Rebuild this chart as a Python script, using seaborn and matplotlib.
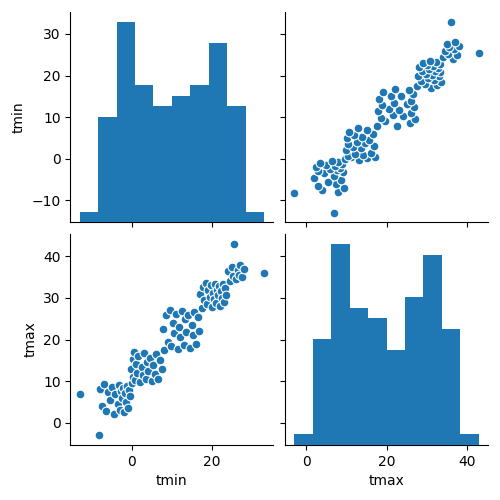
import matplotlib
matplotlib.use("Agg")
import matplotlib.pyplot as plt
import seaborn as sns
import pandas as pd

# values (approximate)
tmin = [-13, -8.2, -8, -7.5, -7, -6.5, -6, -5.5, -5, -4.5, -4.2,
        -3.5, -3.2, -3, -2.8, -2.5, -2.2, -2, -1.8, -1.5, -1.2, -1, -0.8, -0.5, -0.2, 0, 0.2, 0.4, 0.5, 0.7,
        1, 1.2, 1.5, 2, 2.5, 2.8, 3, 3.5, 3.8, 4, 4.5, 5, 5.2,
        5.8, 6, 6.5, 7, 7.5, 7.8, 8, 8.5, 9, 9.5, 9.8,
        10.2, 10.5, 11, 11.5, 11.8, 12, 12.5, 13, 13.2, 13.5, 14, 14.4,
        15, 15.2, 15.5, 16, 16.5, 16.8, 17, 17.5, 17.8, 18, 18.5, 18.8, 19,
        19.5, 19.8, 20, 20.2, 20.5, 20.8, 21, 21.2, 21.5, 21.8, 22, 22.2, 22.5, 22.8, 23, 23.2, 23.5,
        24, 24.5, 25, 25.2, 25.5, 26, 26.5, 26.8, 27, 27.5, 28,
        33]
tmax = [6.8, -3, 8, 4, 9.3, 2.8, 7.3, 5.5, 8.6, 2, 7, 4.5, 9, 3, 7.6, 6, 8.3, 2.5, 7.1, 5, 8.8, 3.5, 7.8, 6.5,
        13, 9.6, 15.2, 11, 17, 10.3, 14, 12, 16, 9.8, 13.5, 11.5, 16.8, 10.4, 14.5, 12.5, 15.6, 10, 13.8, 11.8, 16.5, 10.6, 15, 12.8,
        22.5, 17.5, 25.8, 19.5, 27, 18.5, 24, 21.5, 26.2, 17.8, 23, 20.5, 26.8, 18.8, 25, 21.8, 26, 18, 23.5, 21, 26.5, 19, 25.5, 22,
        31, 27.5, 32.6, 29.5, 33.6, 28.5, 31.8, 30.3, 33, 27.8, 31.3, 29.8, 33.4, 28.8, 32, 30.6, 32.8, 28, 31.6, 30, 33.3, 29, 32.3, 30.8,
        36.5, 34, 37.5, 35.2, 43, 34.5, 36.8, 35.5, 38, 35, 37, 36]

df = pd.DataFrame({"tmin": tmin, "tmax": tmax})

g = sns.pairplot(df, height=2.5,
                 diag_kws=dict(bins=10, alpha=1, linewidth=0, color="#1f77b4"),
                 plot_kws=dict(s=40, color="#1f77b4", edgecolor="white", linewidth=0.8))
g.axes[0, 0].set_yticks([-10, 0, 10, 20, 30])
g.axes[1, 0].set_yticks([0, 10, 20, 30, 40])
g.axes[1, 0].set_xticks([0, 20])
g.axes[1, 1].set_xticks([0, 20, 40])
g.figure.set_size_inches(5, 5)
g.figure.savefig("out.png", dpi=100)
